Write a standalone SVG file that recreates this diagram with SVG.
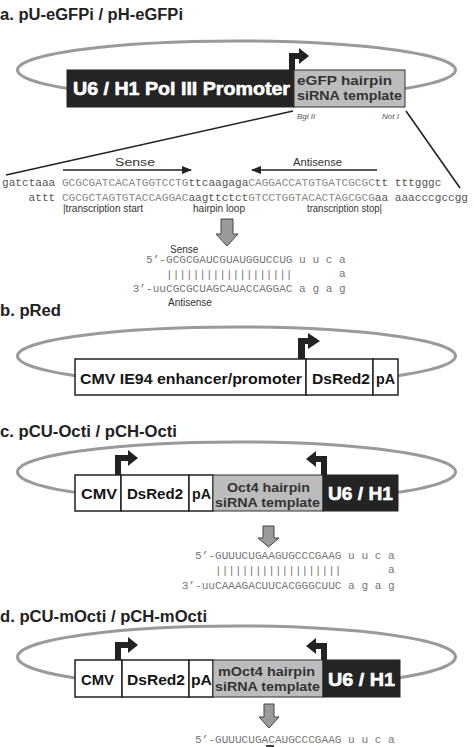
<svg xmlns="http://www.w3.org/2000/svg" width="474" height="747" viewBox="0 0 474 747">
<style>
.title{font-family:"Liberation Sans",Arial,sans-serif;font-weight:bold;font-size:16px;fill:#222}
.ring{fill:none;stroke:#9a9a9a;stroke-width:3}
.blk{fill:#242424;stroke:#222;stroke-width:1}
.gry{fill:#bcbcbc;stroke:#333;stroke-width:1}
.wht{fill:#fff;stroke:#222;stroke-width:1.5}
.bt{font-family:"Liberation Sans",Arial,sans-serif;font-weight:bold;fill:#151515;font-size:15.5px}
.wt{font-family:"Liberation Sans",Arial,sans-serif;font-weight:bold;fill:#fff;stroke:#fff;stroke-width:0.6;font-size:19px}
.gt{font-family:"Liberation Sans",Arial,sans-serif;font-weight:bold;fill:#333;font-size:13px}
.seq{font-family:"Liberation Mono","Courier New",monospace;font-size:11.1px;fill:#888}
.lc{fill:#555}
.hp{font-family:"Liberation Mono","Courier New",monospace;font-size:11.1px;fill:#777}
.lab{font-family:"Liberation Sans",Arial,sans-serif;font-size:10px;fill:#333}
.site{font-family:"Liberation Sans",Arial,sans-serif;font-size:8px;font-style:italic;fill:#555}
.bent{fill:#222}
.down{fill:#9a9a9a;stroke:#444;stroke-width:1}
.line{stroke:#222;stroke-width:1.6;fill:none}
</style>
<defs>
<marker id="ah" viewBox="0 0 10 8" refX="9" refY="4" markerWidth="10" markerHeight="8" markerUnits="userSpaceOnUse" orient="auto">
<path d="M0,0 L10,4 L0,8 Z" fill="#222"/>
</marker>
</defs>

<!-- a -->
<g id="title-a"><text class="title" x="0" y="20" textLength="183" lengthAdjust="spacingAndGlyphs">a. pU-eGFPi / pH-eGFPi</text></g>
<g id="plasmid-a"><ellipse class="ring" cx="236.5" cy="70" rx="219" ry="29"/></g>
<g id="promoter-a">
<rect class="blk" x="67" y="70" width="227" height="37"/>
<text class="wt" x="73" y="95" textLength="217" lengthAdjust="spacingAndGlyphs">U6 / H1 Pol III Promoter</text>
</g>
<g id="hairpin-a">
<rect class="gry" x="294" y="70" width="111" height="37"/>
<text class="gt" x="297" y="85" textLength="95" lengthAdjust="spacingAndGlyphs">eGFP hairpin</text>
<text class="gt" x="297" y="100" textLength="105" lengthAdjust="spacingAndGlyphs">siRNA template</text>
</g>
<g id="start-a"><path class="bent" d="M289,70 V53 H299 V48 L309,56 L299,64 V59 H295 V70 Z"/></g>
<g id="sites-a">
<text class="site" x="297" y="119">Bgl II</text>
<text class="site" x="382" y="119">Not I</text>
</g>
<g id="insert-a">
<text class="lab" x="115" y="166" textLength="40" lengthAdjust="spacingAndGlyphs">Sense</text>
<text class="lab" x="293" y="166" textLength="49" lengthAdjust="spacingAndGlyphs">Antisense</text>
<text class="seq" x="2" y="186"><tspan class="lc">gatctaaa </tspan>GCGCGATCACATGGTCCTG<tspan class="lc">ttcaagaga</tspan>CAGGACCATGTGATCGCGC<tspan class="lc">tt tttgggc</tspan></text>
<text class="seq" x="28.6" y="201"><tspan class="lc">attt </tspan>CGCGCTAGTGTACCAGGAC<tspan class="lc">aagttctct</tspan>GTCCTGGTACACTAGCGCG<tspan class="lc">aa aaacccgccgg</tspan></text>
<text class="lab" x="63" y="212" textLength="80" lengthAdjust="spacingAndGlyphs">|transcription start</text>
<text class="lab" x="193" y="212" textLength="52" lengthAdjust="spacingAndGlyphs">hairpin loop</text>
<text class="lab" x="382" y="212" text-anchor="end" textLength="75" lengthAdjust="spacingAndGlyphs">transcription stop|</text>
</g>
<g id="sirna-a">
<text class="lab" x="170" y="253">Sense</text>
<text class="hp" x="146" y="263">5’-GCGCGAUCGUAUGGUCCUG u u c a</text>
<text class="hp" x="166" y="278">|||||||||||||||||||</text>
<text class="hp" x="339" y="277">a</text>
<text class="hp" x="132.7" y="292">3’-uuCGCGCUAGCAUACCAGGAC a g a g</text>
<text class="lab" x="168" y="306">Antisense</text>
</g>

<!-- b -->
<g id="title-b"><text class="title" x="0" y="316" textLength="61" lengthAdjust="spacingAndGlyphs">b. pRed</text></g>
<g id="plasmid-b"><ellipse class="ring" cx="236.5" cy="356" rx="219" ry="29"/></g>
<g id="cmv-b">
<rect class="wht" x="75" y="359" width="231" height="36"/>
<text class="bt" x="80" y="384" font-size="16" textLength="222" lengthAdjust="spacingAndGlyphs">CMV IE94 enhancer/promoter</text>
</g>
<g id="dsred-b">
<rect class="wht" x="306" y="359" width="67" height="36"/>
<text class="bt" x="312" y="384" textLength="58" lengthAdjust="spacingAndGlyphs">DsRed2</text>
</g>
<g id="pa-b">
<rect class="wht" x="373" y="359" width="25" height="36"/>
<text class="bt" x="376" y="384" textLength="19" lengthAdjust="spacingAndGlyphs">pA</text>
</g>
<g id="start-b"><path class="bent" d="M298,359 V338 H308 V333 L320,341 L308,349 V344 H305 V359 Z"/></g>

<!-- c -->
<g id="title-c"><text class="title" x="0" y="437" textLength="177" lengthAdjust="spacingAndGlyphs">c. pCU-Octi / pCH-Octi</text></g>
<g id="plasmid-c"><ellipse class="ring" cx="236.5" cy="472" rx="219" ry="30"/></g>
<g id="cmv-c">
<rect class="wht" x="75" y="475" width="46" height="36"/>
<text class="bt" x="81" y="499" textLength="36" lengthAdjust="spacingAndGlyphs">CMV</text>
</g>
<g id="dsred-c">
<rect class="wht" x="121" y="475" width="68" height="36"/>
<text class="bt" x="127" y="499" textLength="56" lengthAdjust="spacingAndGlyphs">DsRed2</text>
</g>
<g id="pa-c">
<rect class="wht" x="189" y="475" width="24" height="36"/>
<text class="bt" x="192" y="499" textLength="19" lengthAdjust="spacingAndGlyphs">pA</text>
</g>
<g id="hairpin-c">
<rect class="gry" x="213" y="475" width="110" height="36"/>
<text class="gt" x="227" y="492" textLength="83" lengthAdjust="spacingAndGlyphs">Oct4 hairpin</text>
<text class="gt" x="215" y="507" textLength="105" lengthAdjust="spacingAndGlyphs">siRNA template</text>
</g>
<g id="u6-c">
<rect class="blk" x="323" y="475" width="75" height="36"/>
<text class="wt" x="328" y="500" textLength="65" lengthAdjust="spacingAndGlyphs">U6 / H1</text>
</g>
<g id="start-c1"><path class="bent" d="M115,475 V455 H128 V450 L138,458 L128,466 V461 H121 V475 Z"/></g>
<g id="start-c2"><path class="bent" d="M327,475 V456 H316 V451 L306,459 L316,467 V462 H321 V475 Z"/></g>
<g id="sirna-c">
<text class="hp" x="195" y="559">5’-GUUUCUGAAGUGCCCGAAG u u c a</text>
<text class="hp" x="215" y="574">|||||||||||||||||||</text>
<text class="hp" x="388" y="573">a</text>
<text class="hp" x="181.7" y="589">3’-uuCAAAGACUUCACGGGCUUC a g a g</text>
</g>

<!-- d -->
<g id="title-d"><text class="title" x="0" y="622" textLength="207" lengthAdjust="spacingAndGlyphs">d. pCU-mOcti / pCH-mOcti</text></g>
<g id="plasmid-d"><ellipse class="ring" cx="236.5" cy="657" rx="219" ry="31"/></g>
<g id="cmv-d">
<rect class="wht" x="75" y="660" width="47" height="37"/>
<text class="bt" x="81" y="685" textLength="33" lengthAdjust="spacingAndGlyphs">CMV</text>
</g>
<g id="dsred-d">
<rect class="wht" x="122" y="660" width="67" height="37"/>
<text class="bt" x="127" y="685" textLength="58" lengthAdjust="spacingAndGlyphs">DsRed2</text>
</g>
<g id="pa-d">
<rect class="wht" x="189" y="660" width="24" height="37"/>
<text class="bt" x="191" y="685" textLength="21" lengthAdjust="spacingAndGlyphs">pA</text>
</g>
<g id="hairpin-d">
<rect class="gry" x="213" y="660" width="110" height="37"/>
<text class="gt" x="218" y="676" textLength="97" lengthAdjust="spacingAndGlyphs">mOct4 hairpin</text>
<text class="gt" x="215" y="691" textLength="105" lengthAdjust="spacingAndGlyphs">siRNA template</text>
</g>
<g id="u6-d">
<rect class="blk" x="323" y="660" width="77" height="37"/>
<text class="wt" x="328" y="686" textLength="67" lengthAdjust="spacingAndGlyphs">U6 / H1</text>
</g>
<g id="start-d1"><path class="bent" d="M115,660 V642 H128 V637 L138,645 L128,653 V648 H121 V660 Z"/></g>
<g id="start-d2"><path class="bent" d="M327,660 V643 H316 V638 L306,646 L316,654 V649 H321 V660 Z"/></g>
<g id="sirna-d">
<text class="hp" x="195" y="743">5’-GUUUCUGACAUGCCCGAAG u u c a</text>
<rect x="266" y="745" width="8" height="2" fill="#444"/>
</g>

<!-- connectors -->
<g id="connectors">
<line class="line" x1="293" y1="111" x2="6" y2="175"/>
<line class="line" x1="406" y1="111" x2="460" y2="188"/>
<line class="line" x1="63" y1="170" x2="191" y2="170" marker-end="url(#ah)"/>
<line class="line" x1="377" y1="170" x2="252" y2="170" marker-end="url(#ah)"/>
<path class="down" d="M221,219 H233 V234 H238 L227,246 L216,234 H221 Z"/>
<path class="down" d="M263,526 H274 V538 H279 L268.5,547 L258,538 H263 Z"/>
<path class="down" d="M264,704 H274 V717 H279 L269,728 L259,717 H264 Z"/>
</g>
</svg>
